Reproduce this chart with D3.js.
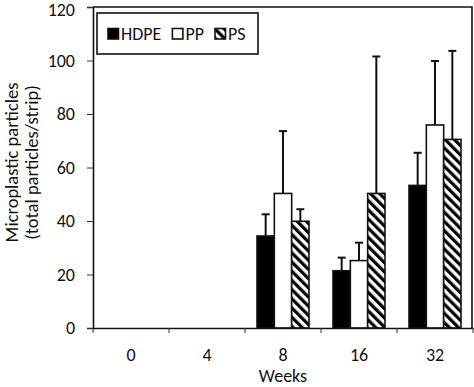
<!DOCTYPE html>
<html>
<head>
<meta charset="utf-8">
<script src="https://cdn.jsdelivr.net/npm/d3@7"></script>
<style>
  html, body { margin: 0; padding: 0; background: #fff; }
  svg { display: block; }
  text { font-family: Carlito, Lato, "Liberation Sans", sans-serif; fill: #111; }
</style>
</head>
<body>
<script>
// ---- data ----
const weeks = ["0", "4", "8", "16", "32"];
const seriesNames = ["HDPE", "PP", "PS"];
const hdpe = [0, 0, 34.4, 21.4, 53.3];
const pp   = [0, 0, 50.3, 25.2, 75.9];
const ps   = [0, 0, 39.9, 50.3, 70.5];
const hdpeErr = [0, 0, 8.1, 4.9, 12.2];
const ppErr   = [0, 0, 23.3, 6.7, 23.9];
const psErr   = [0, 0, 4.5, 51.2, 33.1];
const yTicks = [0, 20, 40, 60, 80, 100, 120];
const yLabelLines = ["Microplastic particles", "(total particles/strip)"];
const xLabel = "Weeks";

const W = 474, H = 387;
const margin = { left: 93, right: 1, top: 7, bottom: 59 };
const FS = 18;

const svg = d3.select("body").append("svg").attr("width", W).attr("height", H);

const defs = svg.append("defs");
const pat = defs.append("pattern")
  .attr("id", "hatch")
  .attr("patternUnits", "userSpaceOnUse")
  .attr("width", 6.5).attr("height", 6.5)
  .attr("patternTransform", "rotate(-45)");
pat.append("rect").attr("width", 6.5).attr("height", 6.5).attr("fill", "#fff");
pat.append("rect").attr("x", 0).attr("y", 0).attr("width", 3.2).attr("height", 6.5).attr("fill", "#000");

const fills = { HDPE: "#000", PP: "#fff", PS: "url(#hatch)" };

const x0 = d3.scaleBand().domain(weeks).range([margin.left, W - margin.right]).paddingInner(0).paddingOuter(0);
const x1 = d3.scaleBand().domain(seriesNames).range([0, 52]).padding(0);
const y = d3.scaleLinear().domain([0, 120]).range([H - margin.bottom, margin.top]);

const vals = { HDPE: hdpe, PP: pp, PS: ps };
const errs = { HDPE: hdpeErr, PP: ppErr, PS: psErr };

// frame (top & right)
svg.append("path")
  .attr("d", `M${margin.left},${y(120)}H${W - margin.right - 1}V${y(0)}`)
  .attr("fill", "none").attr("stroke", "#111").attr("stroke-width", 1.6);

// bars
const data = [];
weeks.forEach((w, i) => seriesNames.forEach(s => {
  if (vals[s][i] > 0) data.push({ week: w, series: s, value: vals[s][i], err: errs[s][i] });
}));
const gx = (d) => x0(d.week) + x0.bandwidth() / 2 - 26 + x1(d.series);

// error bars
const eb = svg.append("g").attr("stroke", "#111").attr("stroke-width", 2);
data.forEach(d => {
  const cx = gx(d) + x1.bandwidth() / 2;
  eb.append("line").attr("x1", cx).attr("x2", cx).attr("y1", y(d.value)).attr("y2", y(d.value + d.err));
  eb.append("line").attr("x1", cx - 4).attr("x2", cx + 4).attr("y1", y(d.value + d.err)).attr("y2", y(d.value + d.err));
});

svg.append("g").selectAll("rect").data(data).join("rect")
  .attr("x", gx)
  .attr("y", d => y(d.value))
  .attr("width", x1.bandwidth())
  .attr("height", d => y(0) - y(d.value))
  .attr("fill", d => fills[d.series])
  .attr("stroke", "#111").attr("stroke-width", 1.6);

// y axis
const yAxis = svg.append("g").attr("transform", `translate(${margin.left},0)`)
  .call(d3.axisLeft(y).tickValues(yTicks).tickSize(6).tickPadding(12));
yAxis.select(".domain").attr("stroke", "#111").attr("stroke-width", 1.6);
yAxis.selectAll(".tick line").attr("stroke", "#333").attr("stroke-width", 1);
yAxis.selectAll("text").attr("font-size", FS).attr("fill", "#111");
yAxis.selectAll(".tick").filter(d => d === 120).select("text").attr("dy", "0.45em");

// x axis
const xAxis = svg.append("g").attr("transform", `translate(0,${y(0)})`)
  .call(d3.axisBottom(x0).tickSize(0).tickPadding(20));
xAxis.select(".domain").attr("stroke", "#111").attr("stroke-width", 1.6);
xAxis.selectAll("text").attr("font-size", FS).attr("fill", "#111");
const bounds = weeks.map(w => x0(w)).concat([x0(weeks[weeks.length - 1]) + x0.bandwidth()]);
xAxis.selectAll(".btick").data(bounds).join("line").attr("class", "btick")
  .attr("x1", d => d).attr("x2", d => d).attr("y1", 0).attr("y2", 5)
  .attr("stroke", "#333").attr("stroke-width", 1);

// axis titles
const yl = svg.append("text")
  .attr("transform", `translate(18,${(y(0) + y(120)) / 2 - 5}) rotate(-90)`)
  .attr("text-anchor", "middle").attr("font-size", 18.5);
yl.append("tspan").attr("x", 0).attr("dy", 0).text(yLabelLines[0]);
yl.append("tspan").attr("x", 0).attr("dy", 20).text(yLabelLines[1]);

svg.append("text").attr("x", x0("8") + x0.bandwidth() / 2).attr("y", 382)
  .attr("text-anchor", "middle").attr("font-size", FS).text(xLabel);

// legend
const lg = svg.append("g");
lg.append("rect").attr("x", 97).attr("y", 13).attr("width", 161).attr("height", 41)
  .attr("fill", "#fff").attr("stroke", "#111").attr("stroke-width", 1.6);
let lx = 108;
seriesNames.forEach(s => {
  lg.append("rect").attr("x", lx).attr("y", 28.5).attr("width", 10.5).attr("height", 10.5)
    .attr("fill", fills[s]).attr("stroke", "#111").attr("stroke-width", 1.6);
  const t = lg.append("text").attr("x", lx + 13).attr("y", 40).attr("font-size", FS).text(s);
  lx += 13 + t.node().getComputedTextLength() + 11;
});
</script>
</body>
</html>
